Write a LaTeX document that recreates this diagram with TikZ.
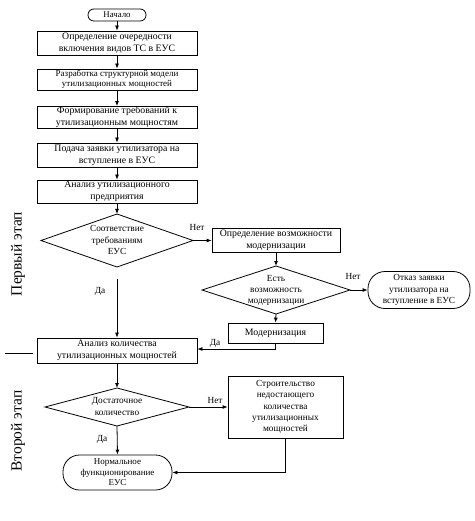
\documentclass[tikz,border=0pt]{standalone}
\usepackage{fontspec}
\setmainfont{Liberation Serif}
\usetikzlibrary{arrows.meta,shapes.geometric}
\newcommand\dtext[1]{\makebox[0pt]{\raisebox{-2.5pt}[0pt][0pt]{\begin{tabular}{@{}c@{}}#1\end{tabular}}}}
\begin{document}
\begin{tikzpicture}[x=1pt,y=-1pt,
  box/.style={draw,line width=0.8pt,rectangle,inner sep=0.5pt,align=center,
    font=\fontsize{9.8}{12}\selectfont},
  sbox/.style={box,font=\fontsize{9}{10.5}\selectfont},
  term/.style={box,font=\fontsize{9.3}{11.3}\selectfont},
  dia/.style={draw,line width=0.8pt,diamond,inner sep=0pt,outer sep=0pt,
    font=\fontsize{9.3}{11.3}\selectfont},
  arr/.style={line width=0.8pt,-{Latex[length=5pt,width=4pt]}},
  lbl/.style={font=\fontsize{9.3}{11}\selectfont,inner sep=0pt},
  stage/.style={font=\fontsize{15.5}{18}\selectfont,rotate=90,inner sep=0pt}]
\useasboundingbox (0,0) rectangle (474,521);

\node[term,minimum width=58pt,minimum height=12pt,rounded corners=5.8pt,
  font=\fontsize{8.8}{10}\selectfont] (start) at (117,15) {Начало};
\node[box,minimum width=160pt,minimum height=24pt] (b1) at (117,43)
  {Определение очередности\\включения видов ТС в ЕУС};
\node[sbox,minimum width=160pt,minimum height=21pt] (b2) at (117,79.5)
  {Разработка структурной модели\\утилизационных мощностей};
\node[box,minimum width=160pt,minimum height=21pt] (b3) at (117,117.5)
  {Формирование требований к\\утилизационным мощностям};
\node[box,minimum width=160pt,minimum height=24pt] (b4) at (117,155)
  {Подача заявки утилизатора на\\вступление в ЕУС};
\node[box,minimum width=160pt,minimum height=23pt] (b5) at (117,191.5)
  {Анализ утилизационного\\предприятия};
\node[dia,minimum width=152pt,minimum height=53pt] (d1) at (117,240.5)
  {\dtext{Соответствие\\требованиям\\ЕУС}};
\node[box,minimum width=128pt,minimum height=24pt] (b6) at (276,240.5)
  {Определение возможности\\модернизации};
\node[dia,minimum width=148pt,minimum height=48pt] (d2) at (276,290)
  {\dtext{Есть\\возможность\\модернизации}};
\node[term,minimum width=102pt,minimum height=37pt,rounded corners=17pt] (rej) at (419,290)
  {Отказ заявки\\утилизатора на\\вступление в ЕУС};
\node[box,minimum width=95pt,minimum height=20pt] (mod) at (275.5,333)
  {Модернизация};
\node[box,minimum width=160pt,minimum height=25pt] (b7) at (117,350.5)
  {Анализ количества\\утилизационных мощностей};
\node[dia,minimum width=144pt,minimum height=38pt] (d3) at (117,407)
  {\dtext{Достаточное\\количество}};
\node[term,minimum width=115pt,minimum height=62pt] (build) at (285.5,407)
  {Строительство\\недостающего\\количества\\утилизационных\\мощностей};
\node[term,minimum width=109pt,minimum height=35pt,rounded corners=16.5pt,
  font=\fontsize{9}{10.5}\selectfont] (norm) at (117.5,472.5)
  {Нормальное\\функционирование\\ЕУС};

\draw[arr] (start) -- (b1);
\draw[arr] (b1) -- (b2);
\draw[arr] (b2) -- (b3);
\draw[arr] (b3) -- (b4);
\draw[arr] (b4) -- (b5);
\draw[arr] (b5) -- (d1);
\draw[arr] (d1.east) -- (b6.west);
\draw[arr] (b6) -- (d2);
\draw[arr] (d2.east) -- (rej.west);
\draw[arr] (d2.south) -- (mod.north);
\draw[arr] (mod.south) |- ([yshift=1.5pt]b7.east);
\draw[arr,shorten <=12pt] (d1.south) -- (b7.north);
\draw[arr] (b7) -- (d3);
\draw[arr] (d3.east) -- (build.west);
\draw[arr] (d3.south) -- (norm.north);
\draw[arr] (build.south) |- (norm.east);

\node[lbl] (n1) at (197,228) {Нет};
\node[lbl] (n2) at (353,276) {Нет};
\node[lbl] (n3) at (215,400) {Нет};
\node[lbl] (y1) at (100,291) {Да};
\node[lbl] (y2) at (215,343) {Да};
\node[lbl] (y3) at (102,439) {Да};

\draw[line width=0.6pt] (5,353) -- (33,353);
\node[stage] (s1) at (18,254) {Первый этап};
\node[stage] (s2) at (18,431) {Второй этап};
\end{tikzpicture}
\end{document}
